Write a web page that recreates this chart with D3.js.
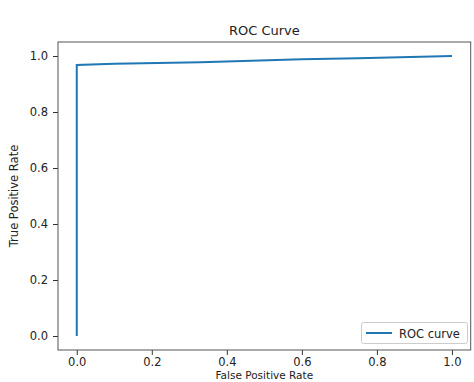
<!DOCTYPE html>
<html>
<head>
<meta charset="utf-8">
<script src="https://cdn.jsdelivr.net/npm/d3@7"></script>
<style>
  body { margin: 0; background: #fff; }
  svg text { font-family: "DejaVu Sans", sans-serif; fill: #222; }
</style>
</head>
<body>
<svg id="chart" width="474" height="382"></svg>
<script>
  // ROC curve values
  var fpr = [0, 0, 0.1, 0.33, 0.6, 0.75, 1.0];
  var tpr = [0, 0.968, 0.972, 0.978, 0.988, 0.992, 1.0];
  var xTicks = [0, 0.2, 0.4, 0.6, 0.8, 1.0];
  var yTicks = [0, 0.2, 0.4, 0.6, 0.8, 1.0];
  var seriesName = "ROC curve";

  var svg = d3.select("#chart");
  // plot box (note: "top" is taken by window.top, so use other names)
  var padL = 58, padR = 470.7, padT = 42, padB = 350;

  var x = d3.scaleLinear().domain([-0.05, 1.05]).range([padL, padR]);
  var y = d3.scaleLinear().domain([-0.05, 1.05]).range([padB, padT]);

  var fmt = d3.format(".1f");

  // axes
  var xAxis = svg.append("g")
    .attr("transform", "translate(0," + padB + ")")
    .call(d3.axisBottom(x).tickValues(xTicks).tickFormat(fmt).tickSize(5).tickPadding(3));
  var yAxis = svg.append("g")
    .attr("transform", "translate(" + padL + ",0)")
    .call(d3.axisLeft(y).tickValues(yTicks).tickFormat(fmt).tickSize(5).tickPadding(5));

  [xAxis, yAxis].forEach(function (g) {
    g.select(".domain").remove();
    g.selectAll(".tick line").attr("stroke", "#333");
    g.selectAll(".tick text").attr("font-size", "11.5px").attr("fill", "#222")
      .attr("font-family", "DejaVu Sans, sans-serif");
  });

  // frame
  svg.append("rect")
    .attr("x", padL).attr("y", padT)
    .attr("width", padR - padL).attr("height", padB - padT)
    .attr("fill", "none").attr("stroke", "#555").attr("stroke-width", 1);

  // curve
  var pts = fpr.map(function (d, i) { return [d, tpr[i]]; });
  var line = d3.line().x(function (d) { return x(d[0]); }).y(function (d) { return y(d[1]); });
  svg.append("path")
    .attr("d", line(pts))
    .attr("fill", "none")
    .attr("stroke", "#1f77b4")
    .attr("stroke-width", 2);

  // title and labels
  svg.append("text")
    .attr("x", (padL + padR) / 2).attr("y", 35)
    .attr("text-anchor", "middle").attr("font-size", "13px")
    .text("ROC Curve");

  svg.append("text")
    .attr("x", (padL + padR) / 2).attr("y", 379)
    .attr("text-anchor", "middle").attr("font-size", "10.5px")
    .text("False Positive Rate");

  svg.append("text")
    .attr("transform", "translate(18," + ((padT + padB) / 2) + ") rotate(-90)")
    .attr("text-anchor", "middle").attr("font-size", "11.5px")
    .text("True Positive Rate");

  // legend
  var lg = svg.append("g");
  lg.append("rect")
    .attr("x", 361.5).attr("y", 322.5).attr("width", 106).attr("height", 21)
    .attr("rx", 2).attr("fill", "#fff").attr("stroke", "#ccc");
  lg.append("line")
    .attr("x1", 366).attr("x2", 392).attr("y1", 333).attr("y2", 333)
    .attr("stroke", "#1f77b4").attr("stroke-width", 2);
  lg.append("text")
    .attr("x", 399).attr("y", 337.5).attr("font-size", "11.5px")
    .text(seriesName);
</script>
</body>
</html>
